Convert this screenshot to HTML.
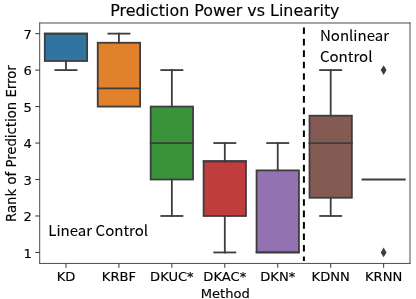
<!DOCTYPE html>
<html><head><meta charset="utf-8"><title>Prediction Power vs Linearity</title><style>
html,body{margin:0;padding:0;background:#fff;overflow:hidden;}
svg{display:block;}
.dj{font-family:"DejaVu Sans","Liberation Sans",sans-serif;fill:#000;stroke:#000;stroke-width:0.15px;}
.cal{font-family:"Noto Sans CJK JP","Liberation Sans",sans-serif;fill:#000;stroke:#000;stroke-width:0.08px;}
</style></head><body>
<svg width="416" height="299" viewBox="0 0 416 299">
<rect width="416" height="299" fill="#fff"/>
<g>
<g stroke="none">
<rect x="44.79" y="33.63" width="42.35" height="27.35" fill="#3274a1"/>
<rect x="97.74" y="42.75" width="42.35" height="63.82" fill="#e1812c"/>
<rect x="150.68" y="106.57" width="42.35" height="72.94" fill="#3a923a"/>
<rect x="203.62" y="161.27" width="42.35" height="54.71" fill="#c03d3e"/>
<rect x="256.57" y="170.39" width="42.35" height="82.06" fill="#9372b2"/>
<rect x="309.51" y="115.69" width="42.35" height="82.06" fill="#845b53"/>
</g>
<g stroke="#3d3d3d" stroke-width="1.8" stroke-linecap="square" fill="none">
<line x1="65.97" y1="60.98" x2="65.97" y2="70.10"/>
<line x1="55.38" y1="70.10" x2="76.56" y2="70.10"/>
<line x1="44.79" y1="33.63" x2="87.15" y2="33.63"/>
<line x1="118.91" y1="42.75" x2="118.91" y2="33.63"/>
<line x1="108.33" y1="33.63" x2="129.50" y2="33.63"/>
<line x1="97.74" y1="88.33" x2="140.09" y2="88.33"/>
<line x1="171.86" y1="106.57" x2="171.86" y2="70.10"/>
<line x1="161.27" y1="70.10" x2="182.45" y2="70.10"/>
<line x1="171.86" y1="179.51" x2="171.86" y2="215.98"/>
<line x1="161.27" y1="215.98" x2="182.45" y2="215.98"/>
<line x1="150.68" y1="143.04" x2="193.03" y2="143.04"/>
<line x1="224.80" y1="161.27" x2="224.80" y2="143.04"/>
<line x1="214.21" y1="143.04" x2="235.39" y2="143.04"/>
<line x1="224.80" y1="215.98" x2="224.80" y2="252.45"/>
<line x1="214.21" y1="252.45" x2="235.39" y2="252.45"/>
<line x1="203.62" y1="161.27" x2="245.98" y2="161.27"/>
<line x1="277.74" y1="170.39" x2="277.74" y2="143.04"/>
<line x1="267.15" y1="143.04" x2="288.33" y2="143.04"/>
<line x1="256.57" y1="252.45" x2="298.92" y2="252.45"/>
<line x1="330.69" y1="115.69" x2="330.69" y2="70.10"/>
<line x1="320.10" y1="70.10" x2="341.27" y2="70.10"/>
<line x1="330.69" y1="197.75" x2="330.69" y2="215.98"/>
<line x1="320.10" y1="215.98" x2="341.27" y2="215.98"/>
<line x1="309.51" y1="143.04" x2="351.86" y2="143.04"/>
<line x1="362.45" y1="179.51" x2="404.81" y2="179.51"/>
</g>
<g stroke="#3d3d3d" stroke-width="1.8" fill="none">
<rect x="44.79" y="33.63" width="42.35" height="27.35"/>
<rect x="97.74" y="42.75" width="42.35" height="63.82"/>
<rect x="150.68" y="106.57" width="42.35" height="72.94"/>
<rect x="203.62" y="161.27" width="42.35" height="54.71"/>
<rect x="256.57" y="170.39" width="42.35" height="82.06"/>
<rect x="309.51" y="115.69" width="42.35" height="82.06"/>
</g>
<g fill="#3d3d3d" stroke="none">
<path d="M383.63 65.20L386.53 70.10L383.63 75.00L380.73 70.10Z"/>
<path d="M383.63 247.55L386.53 252.45L383.63 257.35L380.73 252.45Z"/>
</g>
<line x1="303.9" y1="27.4" x2="303.9" y2="261" stroke="#000" stroke-width="2" stroke-dasharray="6.6 4.85"/>
<g stroke="#4d4d4d" stroke-width="1.0" stroke-linecap="square">
<line x1="39.7" y1="23.0" x2="410.0" y2="23.0"/>
<line x1="39.7" y1="263.45" x2="410.0" y2="263.45"/>
<line x1="39.7" y1="23.0" x2="39.7" y2="263.45"/>
<line x1="410.0" y1="23.0" x2="410.0" y2="263.45"/>
</g>
<g stroke="#383838" stroke-width="1.05">
<line x1="65.97" y1="263.45" x2="65.97" y2="267.85"/>
<line x1="118.91" y1="263.45" x2="118.91" y2="267.85"/>
<line x1="171.86" y1="263.45" x2="171.86" y2="267.85"/>
<line x1="224.80" y1="263.45" x2="224.80" y2="267.85"/>
<line x1="277.74" y1="263.45" x2="277.74" y2="267.85"/>
<line x1="330.69" y1="263.45" x2="330.69" y2="267.85"/>
<line x1="383.63" y1="263.45" x2="383.63" y2="267.85"/>
<line x1="35.30" y1="252.45" x2="39.70" y2="252.45"/>
<line x1="35.30" y1="215.98" x2="39.70" y2="215.98"/>
<line x1="35.30" y1="179.51" x2="39.70" y2="179.51"/>
<line x1="35.30" y1="143.04" x2="39.70" y2="143.04"/>
<line x1="35.30" y1="106.57" x2="39.70" y2="106.57"/>
<line x1="35.30" y1="70.10" x2="39.70" y2="70.10"/>
<line x1="35.30" y1="33.63" x2="39.70" y2="33.63"/>
</g>
<g class="dj" font-size="13.1" text-anchor="middle">
<text x="65.97" y="281.0">KD</text>
<text x="118.91" y="281.0">KRBF</text>
<text x="171.86" y="281.0">DKUC*</text>
<text x="224.80" y="281.0">DKAC*</text>
<text x="277.74" y="281.0">DKN*</text>
<text x="330.69" y="281.0">KDNN</text>
<text x="383.63" y="281.0">KRNN</text>
<text x="225.2" y="298.0">Method</text>
</g>
<g class="dj" font-size="13.1" text-anchor="end">
<text x="31.8" y="257.65">1</text>
<text x="31.8" y="221.18">2</text>
<text x="31.8" y="184.71">3</text>
<text x="31.8" y="148.24">4</text>
<text x="31.8" y="111.77">5</text>
<text x="31.8" y="75.30">6</text>
<text x="31.8" y="38.83">7</text>
</g>
<text class="dj" font-size="13.25" text-anchor="middle" transform="translate(16.45,143.6) rotate(-90)">Rank of Prediction Error</text>
<text class="dj" font-size="15.9" text-anchor="middle" x="224.9" y="16.0">Prediction Power vs Linearity</text>
<text class="cal" font-size="14.5" transform="translate(48.3,235.8) scale(1.038,1)">Linear Control</text>
<text class="cal" font-size="14.5" transform="translate(319.9,41.2) scale(1.038,1)">Nonlinear</text>
<text class="cal" font-size="14.5" transform="translate(319.9,61.8) scale(1.038,1)">Control</text>
</g>
</svg>
</body></html>
